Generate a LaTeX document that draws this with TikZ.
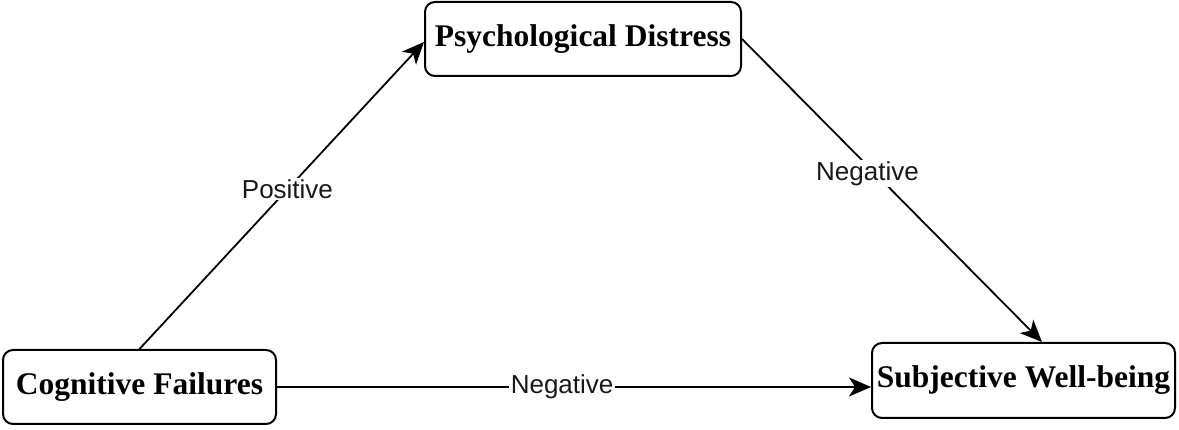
\documentclass[tikz,border=0pt]{standalone}
\usepackage{fontspec}
\setmainfont{Liberation Serif}
\newfontfamily\labelfont{Liberation Sans}
\usetikzlibrary{arrows.meta,calc}
\tikzset{
  box/.style={draw=black, line width=2pt, rounded corners=10pt, fill=white,
    font=\fontsize{31.5}{36}\selectfont\bfseries, inner sep=0pt, align=center},
  conn/.style={draw=black, line width=1.8pt, -{Stealth[length=22pt,width=19pt,inset=6pt]}},
  lbl/.style={fill=white, inner sep=1.5pt, font=\labelfont\fontsize{26}{30}\selectfont, text=black!90}
}
\begin{document}
\begin{tikzpicture}[x=1pt,y=-1pt]
\useasboundingbox (0,0) rectangle (1179,430);
\node[box, minimum width=316pt, minimum height=74pt] (pd) at (583,39) {Psychological Distress};
\node[box, minimum width=273pt, minimum height=74pt] (cf) at (139.5,387) {Cognitive Failures};
\node[box, minimum width=303pt, minimum height=75pt] (swb) at (1023.5,380.5) {Subjective Well-being};
\coordinate (swbtop) at ($(swb.north)+(18.5,0)$);
\coordinate (pdin) at ($(pd.west)+(0,3)$);
\draw[conn] (cf.north) -- node[lbl, pos=0.52] (l1) {Positive} (pdin);
\draw[conn] (pd.east) -- node[lbl, pos=0.445, xshift=-8pt] (l2) {Negative} (swbtop);
\draw[conn] (cf.east) -- node[lbl, pos=0.48] (l3) {Negative} (swb.west |- cf.east);
\end{tikzpicture}
\end{document}
